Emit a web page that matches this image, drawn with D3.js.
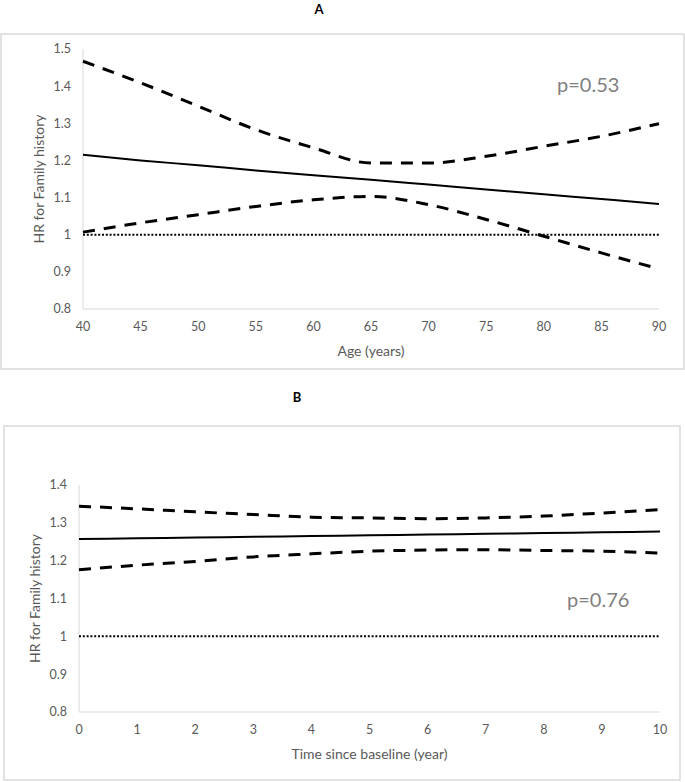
<!DOCTYPE html>
<html>
<head>
<meta charset="utf-8">
<script src="https://cdn.jsdelivr.net/npm/d3@7"></script>
<style>
  body { margin: 0; background: #fff; }
  svg text { font-family: Lato, "Open Sans", sans-serif; }
</style>
</head>
<body>
<div id="chart"></div>
<script>
// Panel A: HR by age
const ageX = [40, 45, 50, 55, 60, 65, 70, 75, 80, 85, 90];
const ageHR = [1.215, 1.200, 1.187, 1.173, 1.160, 1.148, 1.135, 1.122, 1.109, 1.096, 1.083];
const ageUpper = [1.467, 1.409, 1.346, 1.283, 1.234, 1.193, 1.193, 1.211, 1.238, 1.265, 1.299];
const ageLower = [1.007, 1.032, 1.054, 1.076, 1.094, 1.103, 1.081, 1.041, 0.996, 0.951, 0.908];
const ageYTicks = [0.8, 0.9, 1, 1.1, 1.2, 1.3, 1.4, 1.5];

// Panel B: HR by time since baseline
const timeX = [0, 1, 2, 3, 4, 5, 6, 7, 8, 9, 10];
const timeHR = [1.257, 1.259, 1.261, 1.263, 1.265, 1.267, 1.269, 1.271, 1.273, 1.275, 1.277];
const timeUpper = [1.344, 1.337, 1.329, 1.322, 1.315, 1.313, 1.311, 1.313, 1.318, 1.326, 1.335];
const timeLower = [1.176, 1.188, 1.198, 1.210, 1.218, 1.225, 1.228, 1.229, 1.227, 1.225, 1.220];
const timeYTicks = [0.8, 0.9, 1, 1.1, 1.2, 1.3, 1.4];

const svg = d3.select("#chart").append("svg")
    .attr("width", 685)
    .attr("height", 782);

function drawPanel(p) {
    // frame
    svg.append("rect")
        .attr("x", p.frame[0]).attr("y", p.frame[1])
        .attr("width", p.frame[2]).attr("height", p.frame[3])
        .attr("fill", "none").attr("stroke", "#d9d9d9").attr("stroke-width", 1.5);

    svg.append("text")
        .attr("x", p.titleX).attr("y", p.titleY)
        .attr("text-anchor", "middle")
        .style("font-size", "13px").style("font-weight", "bold")
        .attr("fill", "#000")
        .text(p.title);

    let x = d3.scaleLinear().domain(d3.extent(p.xs)).range([p.left, p.right]);
    let y = d3.scaleLinear().domain([p.yTicks[0], p.yTicks[p.yTicks.length - 1]]).range([p.bottom, p.top]);

    // axis lines
    svg.append("line")
        .attr("x1", p.left).attr("x2", p.left)
        .attr("y1", p.top).attr("y2", p.bottom)
        .attr("stroke", "#d9d9d9").attr("stroke-width", 1);
    svg.append("line")
        .attr("x1", p.left).attr("x2", p.right)
        .attr("y1", p.bottom).attr("y2", p.bottom)
        .attr("stroke", "#d9d9d9").attr("stroke-width", 1);

    // tick labels
    svg.selectAll(null).data(p.yTicks).enter().append("text")
        .attr("x", p.left - 12)
        .attr("y", d => y(d))
        .attr("dy", "0.35em")
        .attr("text-anchor", "end")
        .attr("fill", "#595959")
        .style("font-size", "12.5px")
        .text(d => d);

    svg.selectAll(null).data(p.xs).enter().append("text")
        .attr("x", d => x(d))
        .attr("y", p.bottom + 18)
        .attr("dy", "0.35em")
        .attr("text-anchor", "middle")
        .attr("fill", "#595959")
        .style("font-size", "12.5px")
        .text(d => d);

    svg.append("text")
        .attr("x", (p.left + p.right) / 2)
        .attr("y", p.bottom + 42)
        .attr("dy", "0.35em")
        .attr("text-anchor", "middle")
        .attr("fill", "#595959")
        .style("font-size", "14px")
        .text(p.xLabel);

    svg.append("text")
        .attr("transform", `translate(${p.yLabelX},${(p.top + p.bottom) / 2}) rotate(-90)`)
        .attr("text-anchor", "middle")
        .attr("dy", "0.35em")
        .attr("fill", "#595959")
        .style("font-size", "14px")
        .text("HR for Family history");

    // reference line at 1
    svg.append("line")
        .attr("x1", x(p.xs[0])).attr("x2", x(p.xs[p.xs.length - 1]))
        .attr("y1", y(1)).attr("y2", y(1))
        .attr("stroke", "#000").attr("stroke-width", 2)
        .attr("stroke-dasharray", "2,1.8");

    let line = d3.line().curve(d3.curveMonotoneX)
        .x((d, i) => x(p.xs[i]))
        .y(d => y(d));

    svg.append("path").datum(p.hr)
        .attr("d", line)
        .attr("fill", "none").attr("stroke", "#000").attr("stroke-width", 2);

    [p.upper, p.lower].forEach(ci => {
        svg.append("path").datum(ci)
            .attr("d", line)
            .attr("fill", "none").attr("stroke", "#000").attr("stroke-width", 3)
            .attr("stroke-dasharray", "12,9");
    });

    svg.append("text")
        .attr("x", p.pX).attr("y", p.pY)
        .attr("dy", "0.35em")
        .attr("fill", "#7f7f7f")
        .style("font-size", "20px")
        .text(p.pText);
}

drawPanel({
    frame: [1, 34, 683, 335],
    title: "A", titleX: 319, titleY: 14,
    xs: ageX, hr: ageHR, upper: ageUpper, lower: ageLower, yTicks: ageYTicks,
    left: 83, right: 659, top: 49, bottom: 309,
    xLabel: "Age (years)", yLabelX: 39,
    pText: "p=0.53", pX: 557, pY: 85
});

drawPanel({
    frame: [4, 426, 676, 354],
    title: "B", titleX: 297, titleY: 402,
    xs: timeX, hr: timeHR, upper: timeUpper, lower: timeLower, yTicks: timeYTicks,
    left: 79, right: 660, top: 485, bottom: 712,
    xLabel: "Time since baseline (year)", yLabelX: 35,
    pText: "p=0.76", pX: 567, pY: 600
});
</script>
</body>
</html>
